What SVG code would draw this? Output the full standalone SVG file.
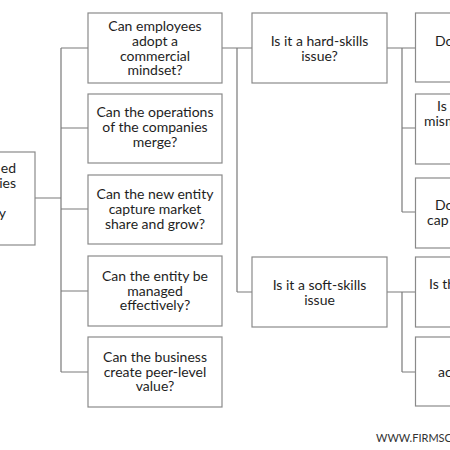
<svg xmlns="http://www.w3.org/2000/svg" width="450" height="450" viewBox="0 0 450 450">
  <style>
    .box { fill: #ffffff; stroke: #8a8a8a; stroke-width: 1.2; }
    .conn { fill: none; stroke: #7a7a7a; stroke-width: 1.2; }
    .t { font-family: Lato, "Noto Sans", sans-serif; font-size: 14px; fill: #1e1e1e; }
    .c { text-anchor: middle; }
    .wm { font-family: Lato, "Noto Sans", sans-serif; font-size: 11px; fill: #333333; }
  </style>
  <rect width="450" height="450" fill="#ffffff"/>

  <g id="connectors">
    <path class="conn" d="M35,198 H61 M61,48 V372 M61,48 H88 M61,128 H88 M61,209 H88 M61,291 H88 M61,372 H88"/>
    <path class="conn" d="M222,48 H237 V292 M237,48 H252 M237,292 H252"/>
    <path class="conn" d="M387,48 H402 V212 M402,128 H415 M402,212 H415 M402,48 H415"/>
    <path class="conn" d="M387,292 H402 V372 M402,292 H415 M402,372 H415"/>
  </g>

  <g id="root">
    <rect class="box" x="-110" y="152" width="145" height="93"/>
    <text class="t" x="16" y="173" text-anchor="end">ed</text>
    <text class="t" x="16" y="188" text-anchor="end">ies</text>
    <text class="t" x="6" y="218" text-anchor="end">y</text>
  </g>

  <g id="q1">
    <rect class="box" x="88" y="13" width="134" height="70"/>
    <text class="t c" x="155" y="31">Can employees</text>
    <text class="t c" x="155" y="46">adopt a</text>
    <text class="t c" x="155" y="61">commercial</text>
    <text class="t c" x="155" y="75">mindset?</text>
  </g>
  <g id="q2">
    <rect class="box" x="88" y="94" width="134" height="69"/>
    <text class="t c" x="155" y="117">Can the operations</text>
    <text class="t c" x="155" y="132">of the companies</text>
    <text class="t c" x="155" y="147">merge?</text>
  </g>
  <g id="q3">
    <rect class="box" x="88" y="175" width="134" height="69"/>
    <text class="t c" x="155" y="199">Can the new entity</text>
    <text class="t c" x="155" y="214">capture market</text>
    <text class="t c" x="155" y="229">share and grow?</text>
  </g>
  <g id="q4">
    <rect class="box" x="88" y="256" width="134" height="70"/>
    <text class="t c" x="155" y="281">Can the entity be</text>
    <text class="t c" x="155" y="296">managed</text>
    <text class="t c" x="155" y="310">effectively?</text>
  </g>
  <g id="q5">
    <rect class="box" x="88" y="337" width="134" height="70"/>
    <text class="t c" x="155" y="362">Can the business</text>
    <text class="t c" x="155" y="377">create peer-level</text>
    <text class="t c" x="155" y="391">value?</text>
  </g>

  <g id="hard">
    <rect class="box" x="252" y="13" width="135" height="70"/>
    <text class="t c" x="319.5" y="46">Is it a hard-skills</text>
    <text class="t c" x="319.5" y="61">issue?</text>
  </g>
  <g id="soft">
    <rect class="box" x="252" y="257" width="135" height="70"/>
    <text class="t c" x="319.5" y="290">Is it a soft-skills</text>
    <text class="t c" x="319.5" y="305">issue</text>
  </g>

  <g id="h1">
    <rect class="box" x="415.5" y="13" width="140" height="69"/>
    <text class="t" x="435" y="46">Do</text>
  </g>
  <g id="h2">
    <rect class="box" x="415.5" y="94" width="140" height="70"/>
    <text class="t" x="437" y="111">Is</text>
    <text class="t" x="424" y="126">mism</text>
  </g>
  <g id="h3">
    <rect class="box" x="415.5" y="178" width="140" height="70"/>
    <text class="t" x="435" y="210">Do</text>
    <text class="t" x="427" y="225">cap</text>
  </g>
  <g id="s1">
    <rect class="box" x="415.5" y="257" width="140" height="70"/>
    <text class="t" x="429" y="289">Is th</text>
  </g>
  <g id="s2">
    <rect class="box" x="415.5" y="337" width="140" height="69"/>
    <text class="t" x="438" y="377">ac</text>
  </g>

  <text class="wm" x="376" y="442">WWW.FIRMSC</text>
</svg>
